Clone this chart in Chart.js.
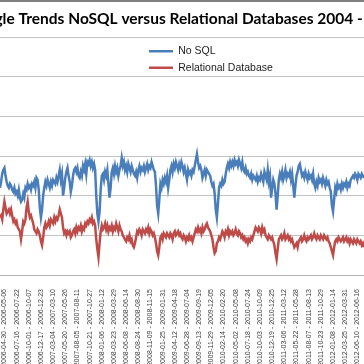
<!DOCTYPE html>
<html>
<head>
<meta charset="utf-8">
<script src="https://cdn.jsdelivr.net/npm/chart.js@4.4.1/dist/chart.umd.min.js"></script>
<style>
  body { margin: 0; background: #fff; }
  #wrap { position: relative; width: 364px; height: 364px; overflow: hidden; background: #fff; }
  #wrap canvas { position: absolute; left: -60px; top: 0; }
  #edge { position: absolute; left: 0; top: 0; width: 364px; height: 2px; background: #808080; }
</style>
</head>
<body>
<div id="wrap">
  <canvas id="chart-trends" width="488" height="364"></canvas>
  <div id="edge"></div>
</div>
<script>
// weekly search interest (first point = week of 2006-04-02)
const firstWeek = '2006-04-02';
const labelEvery = 11;
const labelStart = 4;

const noSql = [
  44, 47, 51, 53, 54, 50, 47, 45, 44, 46,
  45, 43, 42, 44, 41, 42, 40, 43, 39, 37,
  38, 41, 39, 44, 43, 46, 44, 45, 43, 46,
  45, 47, 44, 49, 48, 43, 34, 29, 33, 40,
  44, 47, 45, 48, 46, 44, 47, 45, 48, 47,
  46, 49, 47, 50, 53, 48, 51, 40, 44, 49,
  52, 54, 50, 47, 42, 45, 50, 53, 54, 52,
  54, 50, 49, 52, 50, 55, 53, 56, 51, 57,
  56, 58, 55, 57, 54, 56, 53, 40, 31, 27,
  32, 43, 50, 51, 48, 52, 50, 53, 46, 39,
  44, 52, 54, 51, 55, 52, 54, 50, 53, 55,
  59, 55, 57, 53, 55, 52, 56, 54, 52, 55,
  53, 51, 50, 52, 49, 53, 55, 52, 54, 53,
  55, 52, 54, 56, 53, 55, 54, 57, 55, 53,
  52, 45, 35, 31, 38, 46, 44, 48, 46, 49,
  47, 50, 44, 48, 53, 55, 52, 56, 54, 57,
  55, 53, 56, 54, 57, 55, 52, 54, 51, 48,
  53, 51, 52, 50, 53, 52, 55, 58, 61, 57,
  54, 55, 53, 49, 51, 53, 50, 53, 52, 51,
  50, 47, 45, 46, 41, 33, 29, 36, 44, 46,
  45, 48, 46, 47, 51, 54, 56, 54, 57, 55,
  57, 55, 58, 56, 57, 55, 58, 56, 54, 57,
  53, 52, 54, 51, 52, 50, 49, 51, 48, 50,
  49, 48, 50, 47, 49, 48, 51, 49, 47, 52,
  50, 48, 53, 47, 50, 39, 44, 48, 46, 41,
  33, 40, 48, 51, 49, 52, 48, 50, 53, 49,
  51, 50, 52, 48, 51, 45, 39, 45, 50, 52,
  55, 56, 53, 50, 51, 49, 52, 50, 48, 51,
  49, 50, 48, 51, 46, 44, 47, 45, 49, 47,
  48, 46, 49, 47, 45, 48, 46, 47, 44, 42,
  35, 32, 38, 44, 42, 46, 44, 45, 43, 46,
  44, 46, 45, 47, 44, 46, 45, 48, 49, 50,
  49, 51, 50, 48, 51, 50, 49, 51, 50, 49
];

const relational = [
  29, 30, 28, 33, 37, 34, 31, 32, 33, 31,
  33, 30, 27, 28, 26, 27, 24, 23, 22, 18,
  22, 27, 26, 28, 34, 37, 32, 29, 30, 28,
  26, 23, 22, 21, 23, 22, 20, 17, 15, 19,
  24, 26, 24, 25, 27, 25, 28, 27, 26, 29,
  27, 29, 28, 30, 33, 31, 29, 24, 21, 22,
  20, 22, 21, 22, 19, 20, 22, 23, 21, 24,
  22, 24, 23, 25, 22, 24, 23, 26, 25, 27,
  26, 28, 27, 29, 26, 27, 25, 18, 13, 9,
  16, 22, 25, 23, 24, 26, 23, 25, 22, 24,
  23, 25, 22, 24, 23, 26, 24, 22, 25, 23,
  22, 20, 19, 18, 17, 19, 18, 20, 17, 18,
  15, 14, 16, 19, 22, 21, 23, 22, 20, 23,
  22, 21, 23, 22, 24, 21, 23, 22, 20, 21,
  19, 16, 12, 10, 14, 19, 20, 18, 21, 20,
  19, 21, 20, 19, 21, 20, 18, 21, 22, 20,
  21, 22, 20, 21, 19, 18, 20, 19, 17, 19,
  18, 20, 18, 19, 17, 19, 21, 23, 22, 24,
  22, 23, 21, 24, 22, 23, 25, 26, 24, 23,
  22, 20, 18, 14, 11, 12, 16, 17, 19, 18,
  20, 22, 21, 19, 22, 21, 23, 20, 22, 21,
  22, 20, 21, 23, 21, 20, 22, 21, 19, 20,
  18, 19, 17, 18, 16, 18, 17, 19, 18, 20,
  22, 24, 23, 22, 24, 23, 21, 24, 22, 23,
  20, 19, 18, 20, 19, 18, 19, 17, 15, 11,
  8, 13, 18, 19, 20, 18, 19, 21, 18, 19,
  20, 18, 19, 17, 18, 16, 14, 15, 16, 14,
  17, 18, 19, 17, 18, 20, 18, 17, 19, 18,
  19, 20, 18, 19, 21, 19, 18, 20, 19, 18,
  20, 19, 18, 20, 19, 18, 19, 17, 16, 14,
  12, 10, 14, 17, 18, 17, 19, 18, 17, 18,
  19, 17, 18, 19, 17, 18, 16, 18, 17, 16,
  18, 17, 16, 18, 17, 16, 17, 15, 16, 14
];

// week ranges as Google Trends prints them
function isoDay(d) {
    return d.toISOString().slice(0, 10);
}
const weeks = noSql.map(function (v, i) {
    const start = new Date(firstWeek + 'T00:00:00Z');
    start.setUTCDate(start.getUTCDate() + i * 7);
    const end = new Date(start);
    end.setUTCDate(end.getUTCDate() + 6);
    return isoDay(start) + ' - ' + isoDay(end);
});

// put the legend inside the plot, under the top gridline
const legendSpot = {
    id: 'legendSpot',
    afterLayout(chart) {
        const lg = chart.legend;
        const w = lg.width, h = lg.height;
        lg.left = 203;
        lg.top = 40;
        lg.right = lg.left + w;
        lg.bottom = lg.top + h;
    }
};

const ctx = document.getElementById('chart-trends');
const myChart = new Chart(ctx, {
    type: 'line',
    data: {
        labels: weeks,
        datasets: [{
            label: 'No SQL',
            data: noSql,
            borderColor: '#4a7ebb',
            backgroundColor: '#4a7ebb',
            borderWidth: 2.5,
            pointRadius: 0,
            tension: 0
        }, {
            label: 'Relational Database',
            data: relational,
            borderColor: '#be4b48',
            backgroundColor: '#be4b48',
            borderWidth: 2.5,
            pointRadius: 0,
            tension: 0
        }]
    },
    options: {
        responsive: false,
        animation: false,
        plugins: {
            title: {
                display: true,
                text: 'Google Trends NoSQL versus Relational Databases 2004 - 2012',
                color: '#000',
                font: { family: 'Lato', size: 15.5, weight: 'bold' },
                padding: { top: 10, bottom: 8.4 }
            },
            legend: {
                position: 'chartArea',
                align: 'start',
                labels: {
                    usePointStyle: true,
                    pointStyle: 'line',
                    pointStyleWidth: 24,
                    padding: 6,
                    color: '#222',
                    font: { family: 'Liberation Sans', size: 10.5 }
                }
            },
            tooltip: { enabled: false }
        },
        scales: {
            x: {
                grid: { display: false },
                border: { display: true, color: '#b4b4b4', width: 1 },
                ticks: {
                    autoSkip: false,
                    minRotation: 90,
                    maxRotation: 90,
                    padding: 6,
                    color: '#404040',
                    font: { family: 'Liberation Sans', size: 7 },
                    callback: function (value, index) {
                        return (index - labelStart) % labelEvery === 0 ? weeks[index] : '';
                    }
                },
                afterFit: function (scale) { scale.height = 89; }
            },
            y: {
                min: 0,
                max: 120,
                ticks: { display: false, stepSize: 20 },
                grid: { color: '#c4c4c4', lineWidth: 1, drawTicks: false },
                border: { display: false },
                afterFit: function (scale) { scale.width = 60; }
            },
            yRight: {
                position: 'right',
                ticks: { display: false },
                grid: { display: false },
                border: { display: false },
                afterFit: function (scale) { scale.width = 64; }
            }
        }
    },
    plugins: [legendSpot]
});
</script>
</body>
</html>
